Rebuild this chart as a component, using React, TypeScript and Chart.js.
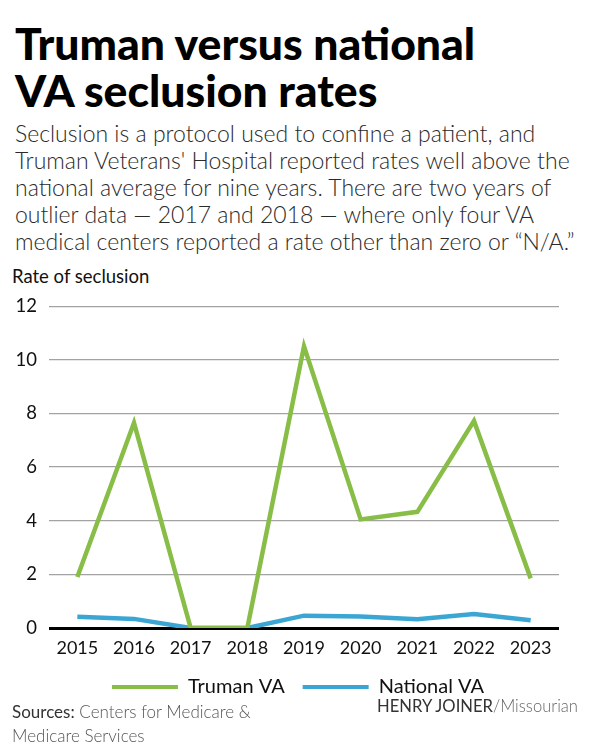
import { useEffect, useRef } from "react"
import { Chart, registerables } from "chart.js"

Chart.register(...registerables)

const years = ["2015", "2016", "2017", "2018", "2019", "2020", "2021", "2022", "2023"]
const trumanRates = [1.9, 7.65, 0, 0, 10.5, 4.05, 4.33, 7.72, 1.85]
const nationalRates = [0.42, 0.34, 0, 0, 0.46, 0.43, 0.33, 0.52, 0.29]
const yMin = 0
const yMax = 12
const yStep = 2

const GREEN = "#88bd47"
const BLUE = "#3ba6d3"
const FONT = 'Lato, "Noto Sans", sans-serif'

const subtitleLines = [
  "Seclusion is a protocol used to confine a patient, and",
  "Truman Veterans' Hospital reported rates well above the",
  "national average for nine years. There are two years of",
  "outlier data \u2014 2017 and 2018 \u2014 where only four VA",
  "medical centers reported a rate other than zero or \u201cN/A.\u201d",
]

// legend sits centred under the plot, not under the whole canvas
const legendShift = {
  id: "legendShift",
  afterLayout(chart: Chart) {
    const legend = chart.legend
    if (!legend) return
    legend.left += 11
    legend.right += 11
  },
}

function SeclusionChart() {
  const chartRef = useRef<HTMLCanvasElement>(null)
  const chartInstance = useRef<Chart | null>(null)

  useEffect(() => {
    if (!chartRef.current) return
    if (chartInstance.current) chartInstance.current.destroy()
    const ctx = chartRef.current.getContext("2d")
    if (!ctx) return

    chartInstance.current = new Chart(ctx, {
      type: "line",
      data: {
        labels: years,
        datasets: [
          {
            label: "Truman VA",
            data: trumanRates,
            borderColor: GREEN,
            backgroundColor: GREEN,
            borderWidth: 4.5,
            pointRadius: 0,
            tension: 0,
          },
          {
            label: "National VA",
            data: nationalRates,
            borderColor: BLUE,
            backgroundColor: BLUE,
            borderWidth: 4.5,
            pointRadius: 0,
            tension: 0,
          },
        ],
      },
      plugins: [legendShift],
      options: {
        animation: false,
        responsive: true,
        maintainAspectRatio: false,
        layout: { padding: { top: 0, left: 15, right: 31, bottom: 0 } },
        plugins: {
          tooltip: { enabled: false },
          legend: {
            position: "bottom",
            labels: {
              boxWidth: 66,
              boxHeight: 4,
              padding: 18,
              color: "#111",
              font: { family: FONT, size: 20 },
              generateLabels: (chart) =>
                Chart.defaults.plugins.legend.labels
                  .generateLabels(chart)
                  .map((item) => ({ ...item, lineWidth: 0, fillStyle: item.strokeStyle })),
            },
          },
        },
        scales: {
          x: {
            offset: true,
            grid: { display: false, drawTicks: false },
            border: { display: false },
            ticks: {
              color: "#111",
              font: { family: FONT, size: 18 },
              padding: 9,
              maxRotation: 0,
              autoSkip: false,
            },
            afterFit: (scale) => {
              scale.height = 31
            },
          },
          y: {
            min: yMin,
            max: yMax,
            grid: {
              drawTicks: false,
              color: (c) => (c.tick && c.tick.value === 0 ? "#000" : "#a3a3a3"),
              lineWidth: (c) => (c.tick && c.tick.value === 0 ? 3 : 1.2),
            },
            border: { display: false },
            ticks: {
              stepSize: yStep,
              color: "#111",
              font: { family: FONT, size: 18.5 },
              padding: 12,
            },
            afterFit: (scale) => {
              scale.width = 34
            },
          },
        },
      },
    })

    return () => {
      if (chartInstance.current) {
        chartInstance.current.destroy()
        chartInstance.current = null
      }
    }
  }, [])

  return (
    <div style={{ position: "absolute", left: 0, top: 283, width: 590, height: 424 }}>
      <canvas ref={chartRef} />
    </div>
  )
}

export default function App() {
  return (
    <div
      style={{
        position: "absolute",
        left: 0,
        top: 0,
        width: 590,
        height: 755,
        overflow: "hidden",
        background: "#fff",
        fontFamily: FONT,
        color: "#111",
      }}
    >
      <div
        style={{
          position: "absolute",
          left: 15,
          top: 19,
          fontSize: 44.5,
          lineHeight: "47px",
          fontWeight: 900,
          color: "#000",
          whiteSpace: "nowrap",
        }}
      >
        Truman versus national
        <br />
        VA seclusion rates
      </div>
      <div
        style={{
          position: "absolute",
          left: 15,
          top: 120,
          fontSize: 23,
          lineHeight: "27px",
          fontWeight: 300,
          color: "#2a2a2a",
          whiteSpace: "nowrap",
        }}
      >
        {subtitleLines.map((line, i) => (
          <div key={i}>{line}</div>
        ))}
      </div>
      <div
        style={{
          position: "absolute",
          left: 12,
          top: 265,
          fontSize: 18.5,
          lineHeight: "22px",
          color: "#111",
          whiteSpace: "nowrap",
        }}
      >
        Rate of seclusion
      </div>
      <SeclusionChart />
      <div
        style={{
          position: "absolute",
          left: 12,
          top: 700,
          fontSize: 17,
          lineHeight: "24px",
          color: "#333",
          whiteSpace: "nowrap",
        }}
      >
        <span style={{ fontWeight: 400 }}>Sources:</span>
        <span style={{ fontWeight: 300, color: "#555" }}> Centers for Medicare &amp;</span>
        <br />
        <span style={{ fontWeight: 300, color: "#555" }}>Medicare Services</span>
      </div>
      <div
        style={{
          position: "absolute",
          right: 12,
          top: 696,
          fontSize: 16.6,
          lineHeight: "20px",
          color: "#333",
          whiteSpace: "nowrap",
        }}
      >
        <span style={{ fontWeight: 400 }}>HENRY JOINER</span>
        <span style={{ fontWeight: 300, color: "#666" }}>/Missourian</span>
      </div>
    </div>
  )
}
